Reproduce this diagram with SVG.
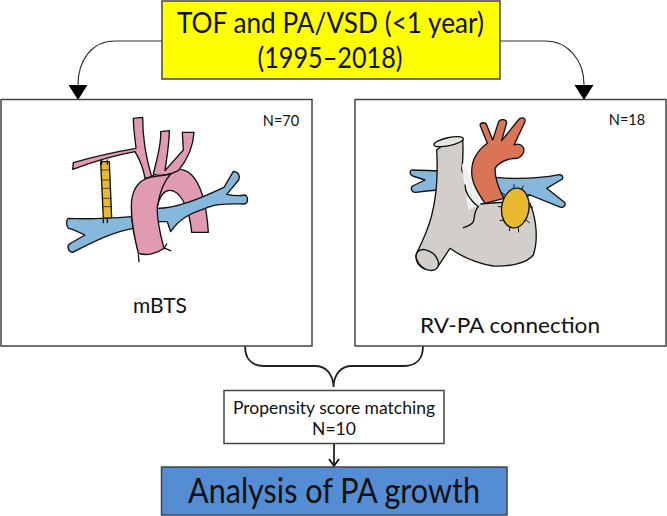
<svg xmlns="http://www.w3.org/2000/svg" width="667" height="516" viewBox="0 0 667 516">
<style>
text{font-family:Lato,"Open Sans","Liberation Sans",sans-serif;fill:#111;text-anchor:middle}
.box{stroke:#444;stroke-width:1.5}
.conn{fill:none;stroke:#333;stroke-width:1.2}
.brace{fill:none;stroke:#222;stroke-width:1.8}
.ink{stroke:#111;stroke-width:4;stroke-linejoin:round;stroke-linecap:round}
.line{fill:none;stroke:#111;stroke-width:4;stroke-linecap:round;stroke-linejoin:round}
.pink{fill:#e09bb0}.blue{fill:#86b8dc}.gold{fill:#e8b92f}.red{fill:#db7355}.grey{fill:#d2cfca}
</style>
<defs>
<marker id="small" markerUnits="userSpaceOnUse" markerWidth="12" markerHeight="12" refX="8" refY="6" orient="auto"><path d="M1,1L8,6L1,11" fill="none" stroke="#111" stroke-width="1.8"/></marker>
</defs>
<rect width="667" height="516" fill="#fff"/>

<g id="connectors">
<path class="conn" d="M162,41H115C92,41 78,60 78,85"/>
<path d="M68.500,85H87.500L78,100Z" fill="#000"/>
<path class="conn" d="M500,41H545C568,41 584,60 584,85"/>
<path d="M574.500,85H593.500L584,100Z" fill="#000"/>
<path class="brace" d="M245,346C245,358 251,366 264,366H315C326,366 333,374 333.500,387C334,374 341,366 352,366H404C417,366 423,358 423,346"/>
<path class="brace" d="M334,443V466" marker-end="url(#small)"/>
</g>

<g id="node-source">
<rect class="box" x="162" y="1" width="338" height="78" fill="#ffff00"/>
<text x="330.500" y="33" font-size="29" textLength="307" lengthAdjust="spacingAndGlyphs">TOF and PA/VSD (&lt;1 year)</text>
<text x="330" y="68" font-size="29" textLength="145" lengthAdjust="spacingAndGlyphs">(1995–2018)</text>
</g>

<g id="node-mbts">
<rect class="box" x="1" y="99.500" width="311" height="246.500" fill="#fff"/>
<text x="281" y="126" font-size="14.500">N=70</text>
<text x="160" y="313" font-size="21">mBTS</text>
<g transform="translate(50,100) scale(.33333)">
<path class="ink gold" d="M152,185L178,185L185,355L160,355Z"/>
<path class="line" style="stroke-width:2" d="M154,210H178M155,240H180M157,265H181M158,295H183M160,320H184"/>
<path class="ink pink" d="M300,232C340,205 395,195 425,225C455,255 470,320 475,397L425,397C420,340 400,285 370,273C345,265 330,285 322,320L300,300Z"/>
<path class="ink blue" d="M320,325C390,325 470,285 522,262L550,214C565,215 572,228 566,240L530,283C550,287 570,288 585,285C595,290 595,308 585,312C550,312 510,308 480,320C440,335 395,345 362,395L352,365H322Z"/>
<path class="ink blue" d="M55,355C110,358 180,355 245,350L250,385C190,395 130,425 68,457C55,455 50,440 58,432L105,405C85,395 70,388 55,385C48,375 48,362 55,355Z"/>
<path class="ink pink" d="M332,95L358,92C358,130 350,175 345,212L400,150L397,97L432,97C430,140 415,175 385,212C360,225 330,230 310,222C320,180 335,130 332,95Z"/>
<path class="ink pink" d="M250,55L278,52C278,100 285,165 305,230L285,235C280,205 270,180 255,155C200,165 130,185 68,208L70,188C130,170 200,155 258,145C255,115 250,85 250,55Z"/>
<path class="ink pink" d="M245,300C250,265 268,240 300,232C325,228 345,225 362,222C345,240 330,270 322,320C320,350 330,400 342,445C320,462 290,468 265,460C255,420 240,360 245,300Z"/>
<path class="line" d="M265,465L267,485M345,445L362,452M342,445L350,432M160,355V368M172,355V368M155,180V192M172,180V192"/>
</g>
</g>

<g id="node-rvpa">
<rect class="box" x="355" y="99.500" width="311" height="246.500" fill="#fff"/>
<text x="627" y="125" font-size="14.500">N=18</text>
<text x="510" y="333" font-size="22" textLength="180" lengthAdjust="spacingAndGlyphs">RV-PA connection</text>
<g transform="translate(390,100) scale(.33333)">
<path class="ink blue" d="M65,210C90,210 115,212 145,213L145,270C120,272 100,274 78,277C65,278 60,265 68,258L105,240L68,228C58,222 58,213 65,210Z"/>
<path class="ink blue" d="M310,232C380,238 450,235 508,224C520,224 522,238 512,240L470,265L525,308C528,320 515,325 507,320L420,285L340,295Z"/>
<path d="M270,312C320,308 380,300 420,310C440,360 445,420 430,465C410,490 360,500 310,498C260,490 215,470 180,445L150,490C140,510 115,512 100,505C82,495 72,475 82,455C110,400 150,320 140,150C160,130 195,115 218,118C220,150 218,190 215,210Z" class="ink grey"/>
<path d="M215,190L250,240L272,312L235,330L225,270Z" fill="#eef0ef"/>
<ellipse class="ink" cx="176" cy="125" rx="45" ry="12" fill="#e6e4e0" transform="rotate(-12 176 125)"/>
<ellipse class="ink grey" cx="112" cy="480" rx="26" ry="38" transform="rotate(-50 112 480)"/>
<path class="ink red" d="M245,215C245,185 258,155 292,130L270,75C272,66 288,66 290,75L308,120L326,65C332,55 350,58 350,68L335,122L385,60C392,50 408,52 405,65L372,135C385,128 400,135 402,150C400,168 385,178 370,175C350,178 328,185 315,205C315,240 325,265 342,295L285,310C265,280 245,250 245,215Z"/>
<path class="line" d="M225,255C225,280 240,300 265,320C250,335 255,355 250,365C245,375 230,380 220,383"/>
<ellipse class="ink gold" cx="376" cy="324" rx="41" ry="60" transform="rotate(8 376 324)"/>
<path class="line" style="stroke-width:3" d="M372,264V254M395,268L400,258M412,290L422,285M418,320L428,322M408,360L418,368M385,383L386,396M360,380L358,392M340,360L330,362M335,320H325M345,285L335,278"/>
</g>
</g>

<g id="node-psm">
<rect class="box" x="224" y="390.500" width="220" height="53" fill="#fff"/>
<text x="334" y="414" font-size="17.500" textLength="202" lengthAdjust="spacingAndGlyphs">Propensity score matching</text>
<text x="334" y="435" font-size="17.500">N=10</text>
</g>

<g id="node-analysis">
<rect class="box" x="161.500" y="467" width="345.500" height="48" fill="#548dd4"/>
<text x="334" y="503" font-size="34" textLength="292" lengthAdjust="spacingAndGlyphs">Analysis of PA growth</text>
</g>
</svg>
